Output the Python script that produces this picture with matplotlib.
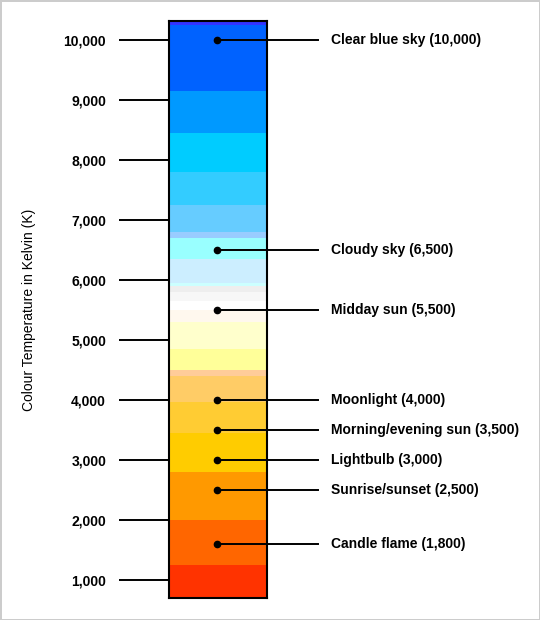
import matplotlib
matplotlib.use("Agg")
import matplotlib.pyplot as plt
import matplotlib.transforms as mtransforms

plt.rcParams['font.family'] = ['Liberation Sans', 'DejaVu Sans']

# colour bands, bottom to top (Kelvin)
band_low = [700, 1250, 2000, 2800, 3450, 3970, 4400, 4500, 4850, 5300, 5500, 5650,
            5800, 5900, 5950, 6350, 6700, 6800, 7250, 7800, 8450, 9150, 10250]
band_high = [1250, 2000, 2800, 3450, 3970, 4400, 4500, 4850, 5300, 5500, 5650, 5800,
             5900, 5950, 6350, 6700, 6800, 7250, 7800, 8450, 9150, 10250, 10317]
band_colors = ['#ff3300', '#ff6600', '#ff9900', '#ffcc00', '#ffcc33', '#ffcc66', '#ffcc99',
               '#ffff99', '#ffffcc', '#fff8ee', '#ffffff', '#f7f7f7', '#eeeeee', '#ccffff',
               '#cceeff', '#99ffff', '#99ccff', '#66ccff', '#33ccff', '#00ccff', '#0099ff',
               '#0062ff', '#3333ff']

tick_values = [1000, 2000, 3000, 4000, 5000, 6000, 7000, 8000, 9000, 10000]

mark_names = ['Clear blue sky (10,000)', 'Cloudy sky (6,500)', 'Midday sun (5,500)',
              'Moonlight (4,000)', 'Morning/evening sun (3,500)', 'Lightbulb (3,000)',
              'Sunrise/sunset (2,500)', 'Candle flame (1,800)']
mark_k = [10000, 6500, 5500, 4000, 3500, 3000, 2500, 1600]

fig = plt.figure(figsize=(5.4, 6.2), dpi=100, edgecolor='#cccccc', linewidth=2)
ax = fig.add_axes([169.3 / 540, 1 - 598 / 620, 97.5 / 540, 577 / 620])

heights = [h - l for l, h in zip(band_low, band_high)]
ax.bar(0, heights, bottom=band_low, width=1, color=band_colors, linewidth=0)
ax.set_xlim(-0.5, 0.5)
ax.set_ylim(band_low[0], band_high[-1])

for s in ax.spines.values():
    s.set_linewidth(1.5)
    s.set_zorder(5)

ax.set_xticks([])
ax.set_yticks(tick_values)
ax.set_yticklabels([f'{v:,}' for v in tick_values], fontweight='bold', fontsize=10)
ax.tick_params(axis='y', length=36, width=1.4, pad=9.5)

trans = mtransforms.blended_transform_factory(ax.transAxes, ax.transData)
for name, k in zip(mark_names, mark_k):
    ax.plot([0.492, 1.528], [k, k], color='black', lw=1.4, transform=trans, clip_on=False, zorder=6)
    ax.plot([0.492], [k], 'o', ms=4.5, color='black', transform=trans, clip_on=False, zorder=7)
    ax.text(1.655, k, name, transform=trans, va='center', ha='left',
            fontsize=10, fontweight='bold')

fig.text(29 / 540, 1 - 309.5 / 620, 'Colour Temperature in Kelvin (K)', rotation=90,
         ha='center', va='center', fontsize=10)

fig.savefig('out.png', dpi=100, edgecolor=fig.get_edgecolor())
